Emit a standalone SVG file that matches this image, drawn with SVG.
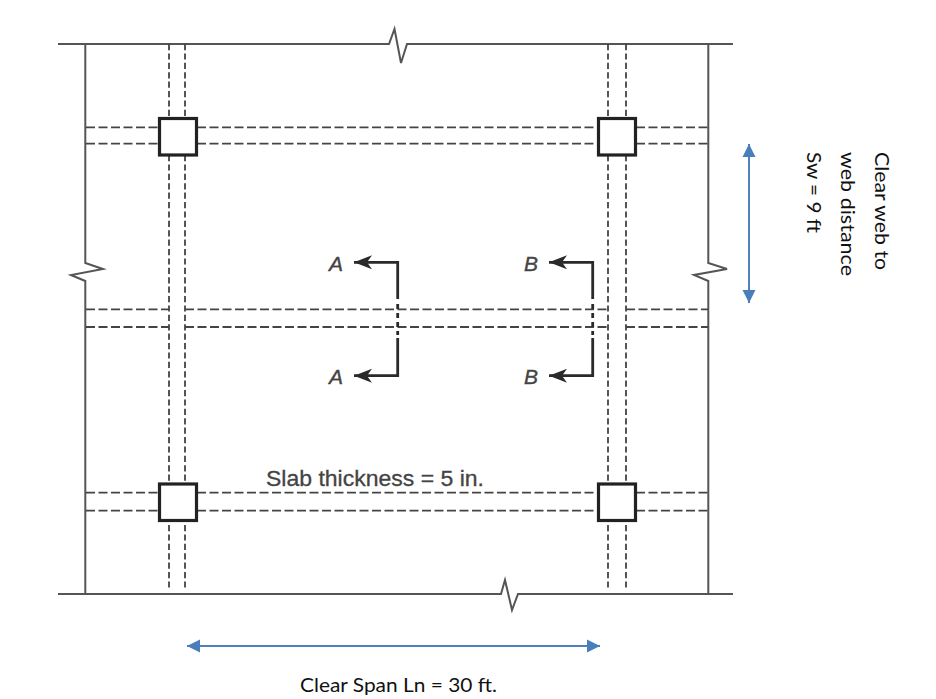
<svg xmlns="http://www.w3.org/2000/svg" width="936" height="699" viewBox="0 0 936 699">
<style>
.wall{fill:none;stroke:#555;stroke-width:2;stroke-linejoin:miter}
.dv{fill:none;stroke:#444;stroke-width:1.8;stroke-dasharray:6.200 3.200}
.dh{fill:none;stroke:#444;stroke-width:1.8;stroke-dasharray:9 3.500}
.col{fill:#fff;stroke:#222;stroke-width:3.200}
.sec{fill:none;stroke:#2a2a2a;stroke-width:2.800}
.secd{fill:none;stroke:#2a2a2a;stroke-width:2.800;stroke-dasharray:5 4}
.dim{fill:none;stroke:#4f81bd;stroke-width:2}
.lab{font-family:"Liberation Sans",Arial,sans-serif;font-size:21px;font-style:italic;fill:#444;stroke:#444;stroke-width:.4}
.slab{font-family:"Liberation Sans",Arial,sans-serif;font-size:21.500px;fill:#444;stroke:#444;stroke-width:.3}
.cap{font-family:"Lato","Open Sans",sans-serif;font-size:20px;fill:#111}
</style>
<defs>
<marker id="secHead" markerUnits="userSpaceOnUse" markerWidth="20" markerHeight="16" refX="18" refY="8" orient="auto-start-reverse">
<path d="M0 8L18 1L13 8L18 15Z" transform="rotate(180 9 8)" fill="#2a2a2a"/>
</marker>
<marker id="dimHead" markerUnits="userSpaceOnUse" markerWidth="14" markerHeight="14" refX="13" refY="7" orient="auto-start-reverse">
<path d="M0 0.500L13 7L0 13.500Z" fill="#4a7ebb"/>
</marker>
</defs>
<g id="connectors">
<path class="wall" d="M58 44H389L394.500 29L401 63L407 44H733"/>
<path class="wall" d="M58 594H501L505 580L512 610L518 594H733"/>
<path class="wall" d="M85.300 44V263L103 269L71 275L85.300 281V594"/>
<path class="wall" d="M708.300 44V263L727 269L694 275L708.300 281V594"/>
<path class="dv" d="M169 44V118M185 44V118M169 155V483M185 155V483M169 525V588M185 525V588"/>
<path class="dv" d="M608 44V118M626 44V118M608 155V483M626 155V483M608 525V588M626 525V588"/>
<path class="dh" d="M86 127.300H159M86 143.700H159M197 127.300H598M197 143.700H598M636 127.300H708M636 143.700H708"/>
<path class="dh" d="M86 309.300H169M86 327H169M185 309.300H608M185 327H608M626 309.300H708M626 327H708"/>
<path class="dh" d="M86 492.700H159M86 510.700H159M197 492.700H598M197 510.700H598M636 492.700H708M636 510.700H708"/>
<path class="sec" marker-end="url(#secHead)" d="M397.700 299V262.300H354"/>
<path class="sec" marker-end="url(#secHead)" d="M397.700 338V375.700H354"/>
<path class="secd" d="M397.700 304V335"/>
<path class="sec" marker-end="url(#secHead)" d="M592.700 299V262.300H549"/>
<path class="sec" marker-end="url(#secHead)" d="M592.700 338V375.700H549"/>
<path class="secd" d="M592.700 304V335"/>
<path class="dim" marker-start="url(#dimHead)" marker-end="url(#dimHead)" d="M187 646H600"/>
<path class="dim" marker-start="url(#dimHead)" marker-end="url(#dimHead)" d="M749 144V303"/>
</g>
<g id="column-top-left"><rect class="col" x="159.500" y="118.500" width="37" height="36.500"/></g>
<g id="column-top-right"><rect class="col" x="598.500" y="118.500" width="37" height="36.500"/></g>
<g id="column-bottom-left"><rect class="col" x="159.500" y="484" width="37" height="36.500"/></g>
<g id="column-bottom-right"><rect class="col" x="598.500" y="484" width="37" height="36.500"/></g>
<g id="section-a-top"><text class="lab" x="329" y="271">A</text></g>
<g id="section-a-bottom"><text class="lab" x="329" y="383.500">A</text></g>
<g id="section-b-top"><text class="lab" x="524" y="271">B</text></g>
<g id="section-b-bottom"><text class="lab" x="524" y="383.500">B</text></g>
<g id="slab-label"><text class="slab" x="266" y="485.500" textLength="218" lengthAdjust="spacingAndGlyphs">Slab thickness = 5 in.</text></g>
<g id="span-label"><text class="cap" x="300" y="692" textLength="197" lengthAdjust="spacingAndGlyphs">Clear Span Ln = 30 ft.</text></g>
<g id="web-label">
<text class="cap" transform="translate(874.500 152) rotate(90)" textLength="118" lengthAdjust="spacingAndGlyphs">Clear web to</text>
<text class="cap" transform="translate(840.500 152) rotate(90)" textLength="124" lengthAdjust="spacingAndGlyphs">web distance</text>
<text class="cap" transform="translate(807 152) rotate(90)" textLength="81" lengthAdjust="spacingAndGlyphs">Sw = 9 ft</text>
</g>
</svg>
